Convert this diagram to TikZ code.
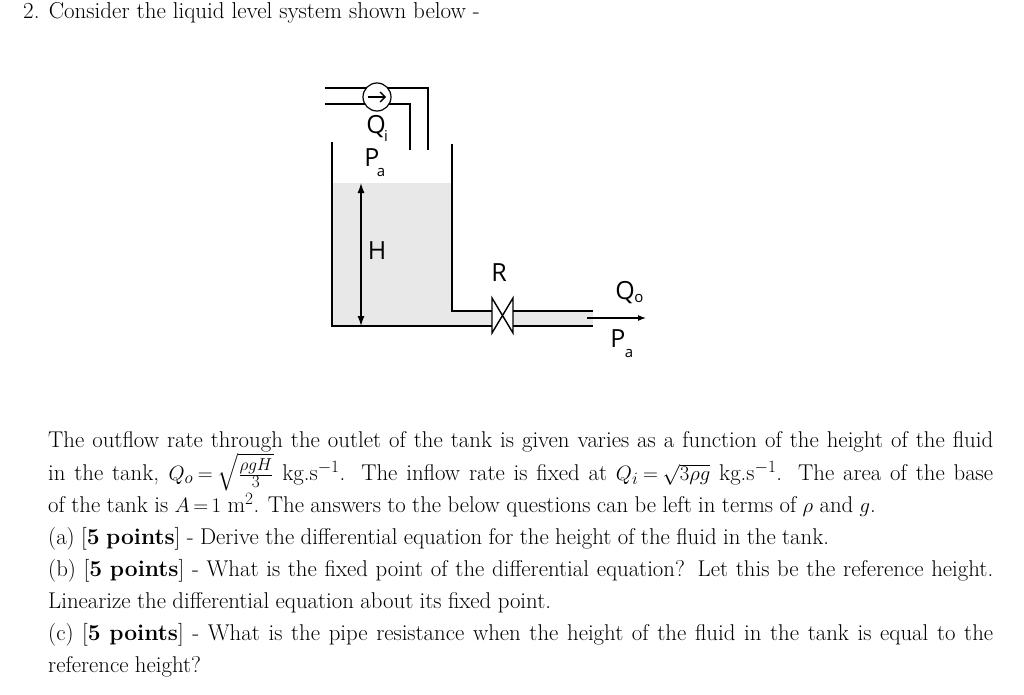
\documentclass[tikz,border=0pt]{standalone}
\usepackage{amsmath}
\usepackage{fontspec}
\newfontfamily\lab{Open Sans}
\usetikzlibrary{arrows.meta}
\begin{document}
\begin{tikzpicture}[x=1pt,y=-1pt,
  wall/.style={line width=1.4pt},
  lbl/.style={font=\lab\fontsize{25}{26}\selectfont, inner sep=0pt},
  sub/.style={font=\lab\fontsize{15}{15}\selectfont, inner sep=0pt},
  txt/.style={anchor=north west, inner sep=0pt, align=left}]
\useasboundingbox (0,0) rectangle (1024,695);
% water
\fill[gray!18] (332,183) rectangle (452,326);
\fill[gray!18] (452,311) rectangle (593,326);
% tank
\draw[wall] (332,142) -- (332,326) -- (593,326);
\draw[wall] (452,144) -- (452,311) -- (593,311);
% valve
\fill[white] (492,298) rectangle (513,333);
\draw[wall] (492,298) -- (492,333) -- (513,298) -- (513,333) -- cycle;
% inlet pipe
\draw[wall] (325,88) -- (428,88) -- (428,150);
\draw[wall] (325,104) -- (410,104) -- (410,150);
\node[draw, circle, line width=1.2pt, fill=white, minimum size=28pt, inner sep=0pt] (pump) at (377,97) {};
\draw[-{Straight Barb[length=5pt,width=10pt]}, line width=1.3pt] ([xshift=-9pt]pump.center) -- ([xshift=9pt]pump.center);
% H arrow
\coordinate (ht) at (361,183);
\coordinate (hb) at (361,326);
\draw[{Latex[length=10pt,width=7pt]}-{Latex[length=10pt,width=7pt]}, line width=1.3pt] (ht) -- (hb);
% outlet arrow
\coordinate (os) at (587,318);
\coordinate (oe) at (646,318);
\draw[-{Latex[length=8pt,width=6pt]}, line width=1.1pt] (os) -- (oe);
% labels
\node[lbl] (qi) at (376,127) {Q}; \node[sub] at (386,136) {i};
\node[lbl] (pa1) at (372,158) {P}; \node[sub] at (381,172) {a};
\node[lbl] (h) at (377,251) {H};
\node[lbl] (r) at (499,273) {R};
\node[lbl] (qo) at (625,293) {Q}; \node[sub] at (639,298) {o};
\node[lbl] (pa2) at (618,339) {P}; \node[sub] at (629,353) {a};
% text
\node[txt, font=\fontsize{23}{32}\selectfont] (t0) at (23,2) {2. Consider the liquid level system shown below -};
\node[txt] (t1) at (48,431) {\parbox{945pt}{\fontsize{22.8}{32}\selectfont
\spaceskip=0.28em plus 0.2em minus 0.12em \thickmuskip=3mu plus 2mu \medmuskip=2mu plus 1mu
The outflow rate through the outlet of the tank is given varies as a function of the height of the fluid\linebreak in the tank, $Q_o=\sqrt{\frac{\rho g H}{3}}$ kg.s$^{-1}$. The inflow rate is fixed at $Q_i=\sqrt{3\rho g}$ kg.s$^{-1}$. The area of the base\linebreak of the tank is $A=1$ m$^2$. The answers to the below questions can be left in terms of $\rho$ and $g$.\par
(a) [\textbf{5 points}] - Derive the differential equation for the height of the fluid in the tank.\par
(b) [\textbf{5 points}] - What is the fixed point of the differential equation? Let this be the reference height.\linebreak Linearize the differential equation about its fixed point.\par
(c) [\textbf{5 points}] - What is the pipe resistance when the height of the fluid in the tank is equal to the\linebreak reference height?}};
\end{tikzpicture}
\end{document}
